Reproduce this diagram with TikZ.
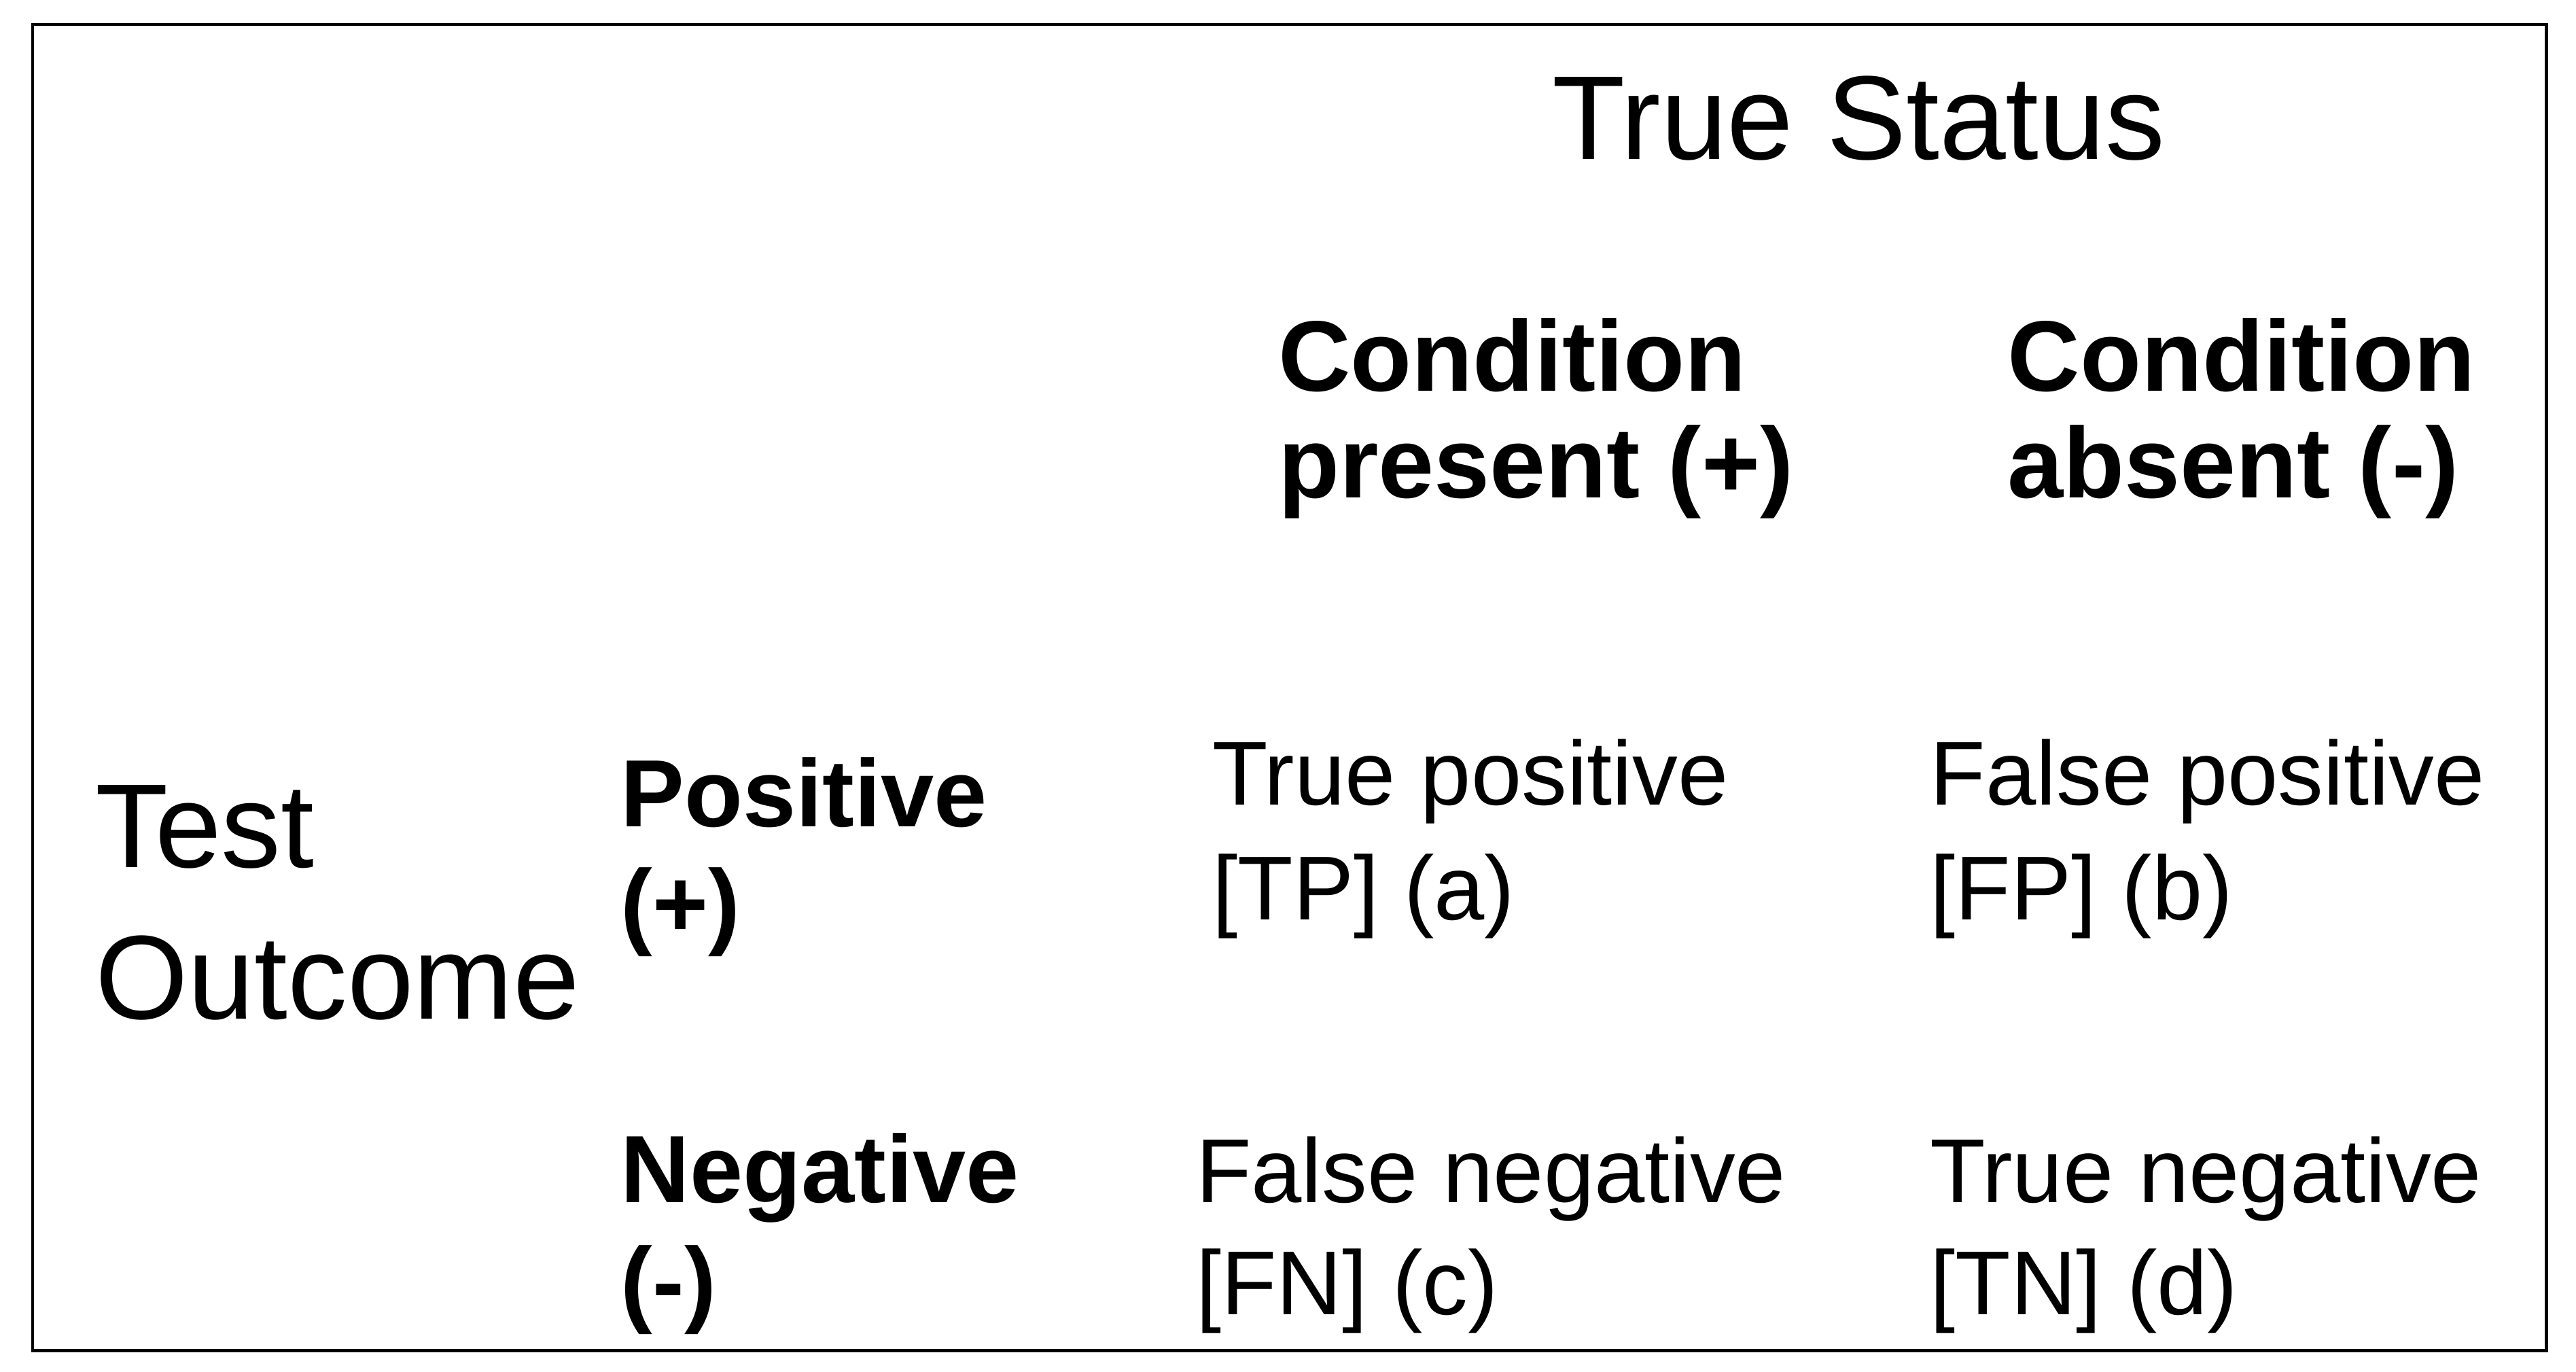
\documentclass[tikz,border=0pt]{standalone}
\usepackage{fontspec}
\setmainfont{Liberation Sans}
\begin{document}
\begin{tikzpicture}[x=0.02418cm,y=-0.02418cm,
  t/.style={anchor=base west,inner sep=0pt,outer sep=0pt},
  big/.style={t,font=\fontsize{50}{60}\selectfont},
  hd/.style={t,font=\fontsize{42}{50}\selectfont\bfseries},
  rw/.style={t,font=\fontsize{40}{48}\selectfont\bfseries},
  cell/.style={t,font=\fontsize{38}{46}\selectfont}]
\useasboundingbox (0,0) rectangle (1568,835);
\fill[white] (0,0) rectangle (1568,835);
\draw[line width=1.2pt] (20,15) rectangle (1550,822);
\node[big] (ts) at (945,97) {True Status};
\node[hd] (cp1) at (778,238) {Condition};
\node[hd] (cp2) at (778,303) {present (+)};
\node[hd] (ca1) at (1222,238) {Condition};
\node[hd] (ca2) at (1222,303) {absent (-)};
\node[big] (to1) at (58,528) {Test};
\node[big] (to2) at (58,620) {Outcome};
\node[rw] (p1) at (378,503) {Positive};
\node[rw] (p2) at (378,570) {(+)};
\node[rw] (n1) at (378,732) {Negative};
\node[rw] (n2) at (378,800) {(-)};
\node[cell] (tp1) at (738,490) {True positive};
\node[cell] (tp2) at (738,560) {[TP] (a)};
\node[cell] (fp1) at (1175,490) {False positive};
\node[cell] (fp2) at (1175,560) {[FP] (b)};
\node[cell] (fn1) at (728,732) {False negative};
\node[cell] (fn2) at (728,800) {[FN] (c)};
\node[cell] (tn1) at (1175,732) {True negative};
\node[cell] (tn2) at (1175,800) {[TN] (d)};
\end{tikzpicture}
\end{document}
